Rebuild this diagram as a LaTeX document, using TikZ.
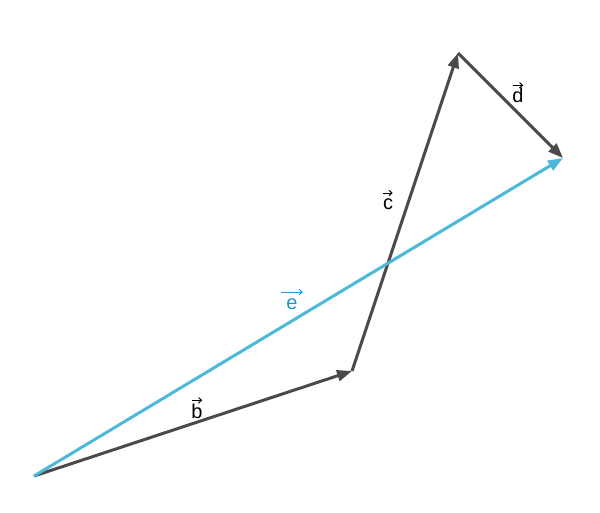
\documentclass[tikz,border=0pt]{standalone}
\usepackage{fontspec}
\setmainfont{Liberation Sans}
\usetikzlibrary{arrows.meta}
\definecolor{vgray}{HTML}{4A4A4A}
\definecolor{vblue}{HTML}{4DB9DA}
\definecolor{lblue}{HTML}{1E98CD}
\tikzset{
  vec/.style={line width=3pt, -{Triangle[length=15pt,width=11pt]}},
  lbl/.style={font=\fontsize{20}{22}\selectfont, inner sep=0pt},
  tiny/.style={line width=1pt, -{Straight Barb[length=3pt,width=5.5pt]}}
}
\begin{document}
\begin{tikzpicture}[x=1pt,y=-1pt]
\useasboundingbox (0,0) rectangle (600,513);
\coordinate (A) at (34,476);
\coordinate (B) at (352,371);
\coordinate (C) at (458,53);
\coordinate (D) at (563,158);
\draw[vec,vgray] (A) -- (B);
\draw[vec,vgray] (B) -- (C);
\draw[vec,vgray] (C) -- (D);
\draw[vec,vblue] (A) -- (D);
\node[lbl,anchor=base] (lb) at (197,418) {b};
\node[lbl,anchor=base] (lc) at (388,210) {c};
\node[lbl,anchor=base] (ld) at (518,103) {d};
\node[lbl,anchor=base,text=lblue] (le) at (292,309) {e};
\draw[tiny,black] ([xshift=0.5pt,yshift=3pt]lb.north west) -- ([xshift=-0.5pt,yshift=3pt]lb.north east);
\draw[tiny,black] ([xshift=0.5pt,yshift=6pt]lc.north west) -- ([xshift=-0.5pt,yshift=6pt]lc.north east);
\draw[tiny,black] ([xshift=0.5pt,yshift=3pt]ld.north west) -- ([xshift=-0.5pt,yshift=3pt]ld.north east);
\draw[tiny,lblue] ([xshift=-5pt,yshift=6pt]le.north west) -- ([xshift=5pt,yshift=6pt]le.north east);
\end{tikzpicture}
\end{document}
